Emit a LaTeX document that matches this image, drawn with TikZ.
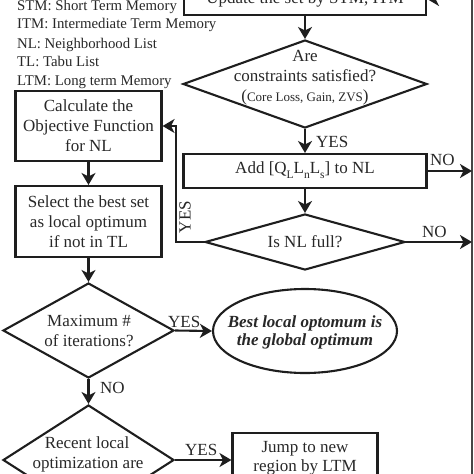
\documentclass[tikz,border=0pt]{standalone}
\usepackage{fontspec}
\setmainfont{Liberation Serif}
\usetikzlibrary{shapes.geometric,arrows.meta,calc}
\definecolor{lc}{RGB}{30,30,30}
\definecolor{tc}{RGB}{40,40,40}
\definecolor{rc}{RGB}{70,70,70}
\newcommand{\mysub}[1]{\raisebox{-5pt}{\fontsize{11.5}{11.5}\selectfont #1}}
\begin{document}
\begin{tikzpicture}[x=1pt,y=-1pt,
  font=\fontsize{17}{20}\selectfont,
  every node/.style={text=tc, inner sep=0pt},
  box/.style={rectangle, draw=lc, line width=2.1pt, align=center},
  dia/.style={diamond, draw=lc, line width=2.1pt},
  oval/.style={ellipse, draw=lc, line width=2.1pt},
  leg/.style={font=\fontsize{14.8}{17}\selectfont, anchor=base west},
  bi/.style={font=\fontsize{17}{20}\selectfont\bfseries\itshape, anchor=base},
  arr/.style={draw=lc, line width=2.1pt, -{Stealth[length=12pt,width=14pt,inset=3.5pt]}},
  rline/.style={draw=rc, line width=2.8pt},
]
\useasboundingbox (0,0) rectangle (474,474);
\clip (0,0) rectangle (474,474);
\fill[white] (0,0) rectangle (474,474);

% legend
\node[leg] (l1) at (17,10) {STM: Short Term Memory};
\node[leg] (l2) at (17,28) {ITM: Intermediate Term Memory};
\node[leg] (l3) at (17,48) {NL: Neighborhood List};
\node[leg] (l4) at (17,66) {TL: Tabu List};
\node[leg] (l5) at (17,85) {LTM: Long term Memory};

% right column
\node[box, minimum width=242pt, minimum height=32pt] (upd) at (305,-1) {Update the set by STM, ITM};
\node[dia, minimum width=244pt, minimum height=88pt] (d1) at (305,84) {};
\node[anchor=base] (d1a) at (305,61) {Are};
\node[anchor=base] (d1b) at (305,81) {constraints satisfied?};
\node[anchor=base] (d1c) at (305,101) {({\fontsize{13}{15}\selectfont Core Loss, Gain, ZVS})};
\node[box, minimum width=243pt, minimum height=34pt] (add) at (305,171) {};
\node[anchor=base] (addt) at (305,173) {Add [Q\mysub{L}L\mysub{n}L\mysub{s}] to NL};
\node[dia, minimum width=200pt, minimum height=56pt] (d2) at (305,242) {};
\node[anchor=base] (d2t) at (305,247) {Is NL full?};

% left column
\node[box, minimum width=146pt, minimum height=70pt] (calc) at (88.5,126) {Calculate the\\Objective Function\\for NL};
\node[box, minimum width=146pt, minimum height=71pt] (sel) at (88.5,221.5) {Select the best set\\as local optimum\\if not in TL};
\node[dia, minimum width=171pt, minimum height=95pt] (d3) at (88.5,330.5) {};
\node[anchor=base] (d3a) at (89,326) {Maximum \#};
\node[anchor=base] (d3b) at (89,346) {of iterations?};
\node[oval, minimum width=184pt, minimum height=84pt] (ell) at (305,331) {};
\node[bi] (ea) at (305,327) {Best local optomum is};
\node[bi] (eb) at (305,345) {the global optimum};
\node[dia, minimum width=171pt, minimum height=110pt] (d4) at (88.5,460) {};
\node[anchor=base] (d4a) at (87,448) {Recent local};
\node[anchor=base] (d4b) at (88,468) {optimization are};
\node[box, minimum width=145pt, minimum height=70pt, anchor=north] (jump) at (305,432) {};
\node[anchor=base] (ja) at (305,452) {Jump to new};
\node[anchor=base] (jb) at (305,471) {region by LTM};

% coordinates
\coordinate (rt) at (472,-10);
\coordinate (rb) at (472,484);
\coordinate (rtop) at (472,-1);
\coordinate (yx) at (176,242);

% connectors
\draw[rline] (rt) -- (rb);
\draw[arr] (rtop) -- (upd.east);
\draw[arr] (upd.south) -- (d1.north);
\draw[arr] (d1.south) -- (add.north);
\draw[arr] (add.east) -- (add.east -| rb);
\draw[arr] (add.south) -- (d2.north);
\draw[arr] (d2.east) -- (d2.east -| rb);
\draw[arr] (d2.west) -- (yx) |- (calc.east);
\draw[arr] (calc.south) -- (sel.north);
\draw[arr] (sel.south) -- (d3.north);
\draw[arr] (d3.east) -- (ell.west);
\draw[arr] (d3.south) -- (d4.north);
\draw[arr] (d4.east) -- (d4.east -| jump.west);

% labels
\node[anchor=base west] (y1) at (316,147) {YES};
\node[anchor=base west] (n1) at (430,165) {NO};
\node[anchor=base west] (n2) at (422,237) {NO};
\node[rotate=90] (y2) at (185,217) {YES};
\node[anchor=base west] (y3) at (168,327) {YES};
\node[anchor=base west] (n3) at (100,393) {NO};
\node[anchor=base west] (y4) at (185,455) {YES};
\end{tikzpicture}
\end{document}
